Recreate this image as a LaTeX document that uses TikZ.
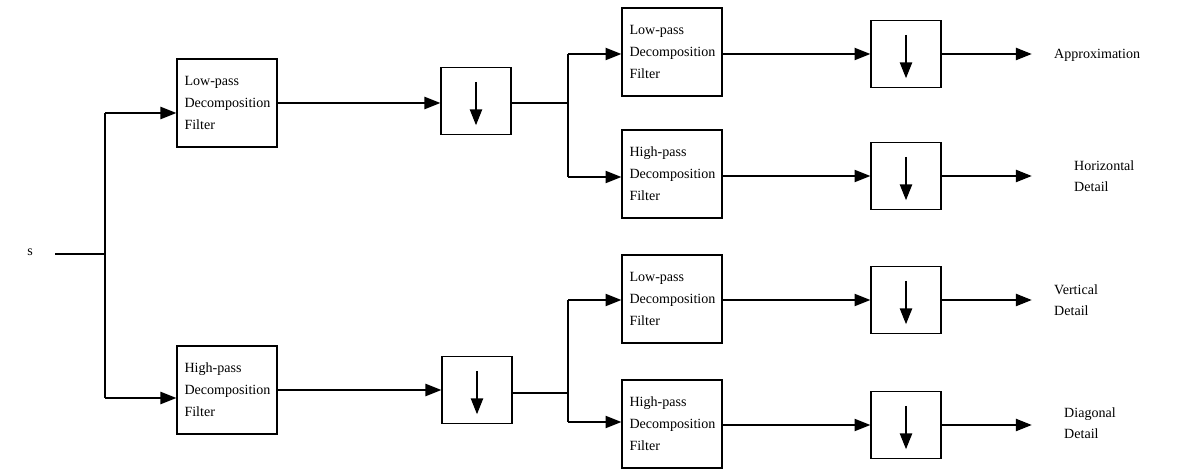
\documentclass[tikz,border=0pt]{standalone}
\usepackage{fontspec}
\setmainfont{Liberation Serif}
\usetikzlibrary{arrows.meta}
\begin{document}
\begin{tikzpicture}[x=0.02cm,y=-0.02cm,
  filt/.style={draw,line width=0.8pt,minimum width=2cm,minimum height=1.76cm,align=left,
    font=\fontsize{8}{12.5}\selectfont,inner sep=0pt,text width=1.7cm},
  ds/.style={draw,line width=0.8pt,minimum width=1.4cm,minimum height=1.34cm},
  lbl/.style={font=\fontsize{8}{12}\selectfont,align=left},
  arr/.style={line width=0.8pt,-{Triangle[length=9pt,width=7pt]}},
  ln/.style={line width=0.8pt}]
\useasboundingbox (0,0) rectangle (1196,475);
\node[lbl] (s) at (30,252) {s};
\coordinate (sin) at (55,254);
\coordinate (b0) at (105,254);
\coordinate (b0t) at (105,113);
\coordinate (b0b) at (105,398);
% level 1
\node[filt] (lp1) at (227,103) {Low-pass\\Decomposition\\Filter};
\node[filt] (hp1) at (227,390) {High-pass\\Decomposition\\Filter};
\node[ds] (d1) at (476,101) {};
\node[ds] (d2) at (477,390) {};
\coordinate (b1) at (568,103);
\coordinate (b1t) at (568,54);
\coordinate (b1b) at (568,177);
\coordinate (b2) at (568,393);
\coordinate (b2t) at (568,300);
\coordinate (b2b) at (568,422);
% level 2
\node[filt] (lp2) at (672,52) {Low-pass\\Decomposition\\Filter};
\node[filt] (hp2) at (672,174) {High-pass\\Decomposition\\Filter};
\node[filt] (lp3) at (672,299) {Low-pass\\Decomposition\\Filter};
\node[filt] (hp3) at (672,424) {High-pass\\Decomposition\\Filter};
\node[ds] (d3) at (906,54) {};
\node[ds] (d4) at (906,176) {};
\node[ds] (d5) at (906,300) {};
\node[ds] (d6) at (906,425) {};
% outputs
\node[lbl,anchor=west] (o1) at (1048,55) {Approximation};
\node[lbl,anchor=west] (o2) at (1068,176) {Horizontal\\Detail};
\node[lbl,anchor=west] (o3) at (1048,300) {Vertical\\Detail};
\node[lbl,anchor=west] (o4) at (1058,423) {Diagonal\\Detail};
% down arrows
\foreach \d in {d1,d2,d3,d4,d5,d6}
  \draw[arr] ([yshift=-0.3cm]\d.north) -- ([yshift=0.2cm]\d.south);
% connectors
\draw[ln] (sin) -- (b0);
\draw[ln] (b0t) -- (b0b);
\draw[arr] (b0t) -- (lp1.west|-b0t);
\draw[arr] (b0b) -- (hp1.west|-b0b);
\draw[arr] (lp1.east|-b1) -- (d1.west|-b1);
\draw[arr] (hp1.east) -- (d2.west);
\draw[ln] (d1.east|-b1) -- (b1);
\draw[ln] (d2.east|-b2) -- (b2);
\draw[ln] (b1t) -- (b1b);
\draw[ln] (b2t) -- (b2b);
\draw[arr] (b1t) -- (lp2.west|-b1t);
\draw[arr] (b1b) -- (hp2.west|-b1b);
\draw[arr] (b2t) -- (lp3.west|-b2t);
\draw[arr] (b2b) -- (hp3.west|-b2b);
\draw[arr] (lp2.east|-d3) -- (d3.west);
\draw[arr] (hp2.east|-d4) -- (d4.west);
\draw[arr] (lp3.east|-d5) -- (d5.west);
\draw[arr] (hp3.east|-d6) -- (d6.west);
\draw[arr] (d3.east) -- ++(90,0);
\draw[arr] (d4.east) -- ++(90,0);
\draw[arr] (d5.east) -- ++(90,0);
\draw[arr] (d6.east) -- ++(90,0);
\end{tikzpicture}
\end{document}
